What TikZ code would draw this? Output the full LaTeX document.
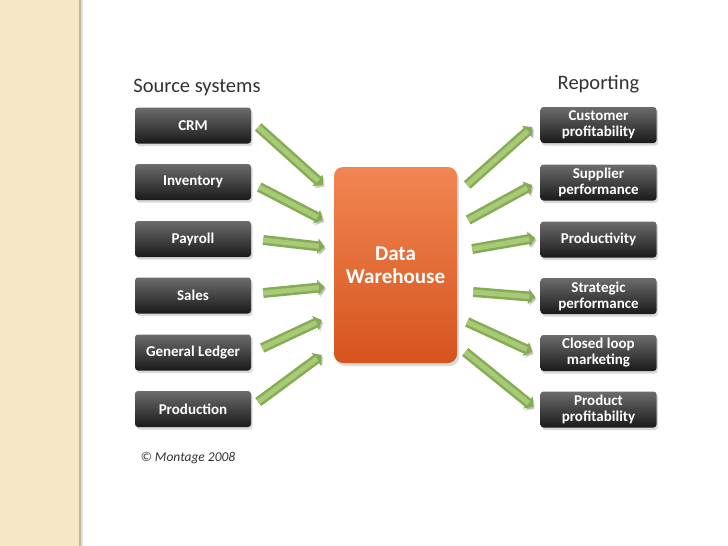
\documentclass[tikz,border=0pt]{standalone}
\usepackage{fontspec}
\setmainfont{Carlito}
\usetikzlibrary{arrows.meta,shadows,calc}
\definecolor{beige}{RGB}{246,232,198}
\definecolor{beigeedge}{RGB}{196,182,148}
\definecolor{boxtop}{RGB}{108,108,108}
\definecolor{boxbot}{RGB}{26,26,26}
\definecolor{dwtop}{RGB}{241,134,82}
\definecolor{dwbot}{RGB}{214,84,30}
\definecolor{gdark}{RGB}{132,172,84}
\definecolor{glight}{RGB}{168,202,118}
\definecolor{titlegray}{RGB}{50,50,50}
\begin{document}
\begin{tikzpicture}[x=1pt,y=-1pt,
  sysbox/.style={rounded corners=3pt, minimum width=116pt, minimum height=36pt,
    top color=boxtop, bottom color=boxbot, draw=none, text=white,
    font=\fontsize{15}{16}\selectfont\bfseries, align=center, inner sep=0pt,
    drop shadow={shadow xshift=1.5pt, shadow yshift=-2.5pt, opacity=0.3}},
  dwbox/.style={rounded corners=9pt, minimum width=123pt, minimum height=196pt,
    top color=dwtop, bottom color=dwbot, draw=none, text=white,
    font=\fontsize{21}{23}\selectfont\bfseries, align=center, inner sep=0pt,
    drop shadow={shadow xshift=2pt, shadow yshift=-3pt, opacity=0.3}},
  titletext/.style={text=titlegray, font=\fontsize{20.5}{22}\selectfont, inner sep=0pt},
  copytext/.style={text=titlegray, font=\fontsize{13.5}{15}\selectfont\itshape, inner sep=0pt},
  garrow/.style={line width=10pt, draw=gdark, -{Triangle[length=7pt,width=15pt]},
    preaction={draw=black, opacity=0.15, transform canvas={xshift=1.5pt,yshift=-2pt}},
    postaction={draw=glight, line width=5pt, -, shorten >=6pt}}
]
\useasboundingbox (0,0) rectangle (728,546);
% left beige strip
\fill[beige] (0,0) rectangle (79,546);
\fill[beigeedge] (79,0) rectangle (81,546);
\fill[black!12] (81,0) rectangle (83,546);

% titles
\node[titletext] (srct) at (197,87) {Source systems};
\node[titletext] (rept) at (598.5,84) {Reporting};

% source systems
\node[sysbox] (crm)  at (193,125.5) {CRM};
\node[sysbox] (inv)  at (193,182)   {Inventory};
\node[sysbox] (pay)  at (193,239)   {Payroll};
\node[sysbox] (sal)  at (193,295.5) {Sales};
\node[sysbox] (gl)   at (193,352.5) {General Ledger};
\node[sysbox] (prod) at (193,409)   {Production};

% data warehouse
\node[dwbox] (dw) at (395.5,265) {Data\\Warehouse};

% reporting
\node[sysbox] (cp) at (598.5,125)   {Customer\\profitability};
\node[sysbox] (sp) at (598.5,182.5) {Supplier\\performance};
\node[sysbox] (pr) at (598.5,239.5) {Productivity};
\node[sysbox] (st) at (598.5,296)   {Strategic\\performance};
\node[sysbox] (cl) at (598.5,353)   {Closed loop\\marketing};
\node[sysbox] (pp) at (598.5,409.5) {Product\\profitability};

% copyright
\node[copytext] (cpy) at (188,458) {© Montage 2008};

% arrows in
\draw[garrow] ($(crm.east)+(7,1.5)$)  -- ($(dw.west)+(-11,-80)$);
\draw[garrow] ($(inv.east)+(8,5)$)    -- ($(dw.west)+(-11,-45)$);
\draw[garrow] ($(pay.east)+(12,1)$)   -- ($(dw.west)+(-9,-18)$);
\draw[garrow] ($(sal.east)+(12,-2.5)$) -- ($(dw.west)+(-9,22)$);
\draw[garrow] ($(gl.east)+(11,-4.5)$) -- ($(dw.west)+(-12,55)$);
\draw[garrow] ($(prod.east)+(7,-7)$)  -- ($(dw.west)+(-12,90)$);

% arrows out
\draw[garrow] ($(dw.east)+(10,-80)$) -- ($(cp.west)+(-8,2)$);
\draw[garrow] ($(dw.east)+(11,-45)$) -- ($(sp.west)+(-8,2.5)$);
\draw[garrow] ($(dw.east)+(15,-16)$) -- ($(pr.west)+(-5,-1.5)$);
\draw[garrow] ($(dw.east)+(16,27)$)  -- ($(st.west)+(-5,1)$);
\draw[garrow] ($(dw.east)+(10,57)$)  -- ($(cl.west)+(-8,-1)$);
\draw[garrow] ($(dw.east)+(8,87)$)   -- ($(pp.west)+(-7,-2.5)$);
\end{tikzpicture}
\end{document}
